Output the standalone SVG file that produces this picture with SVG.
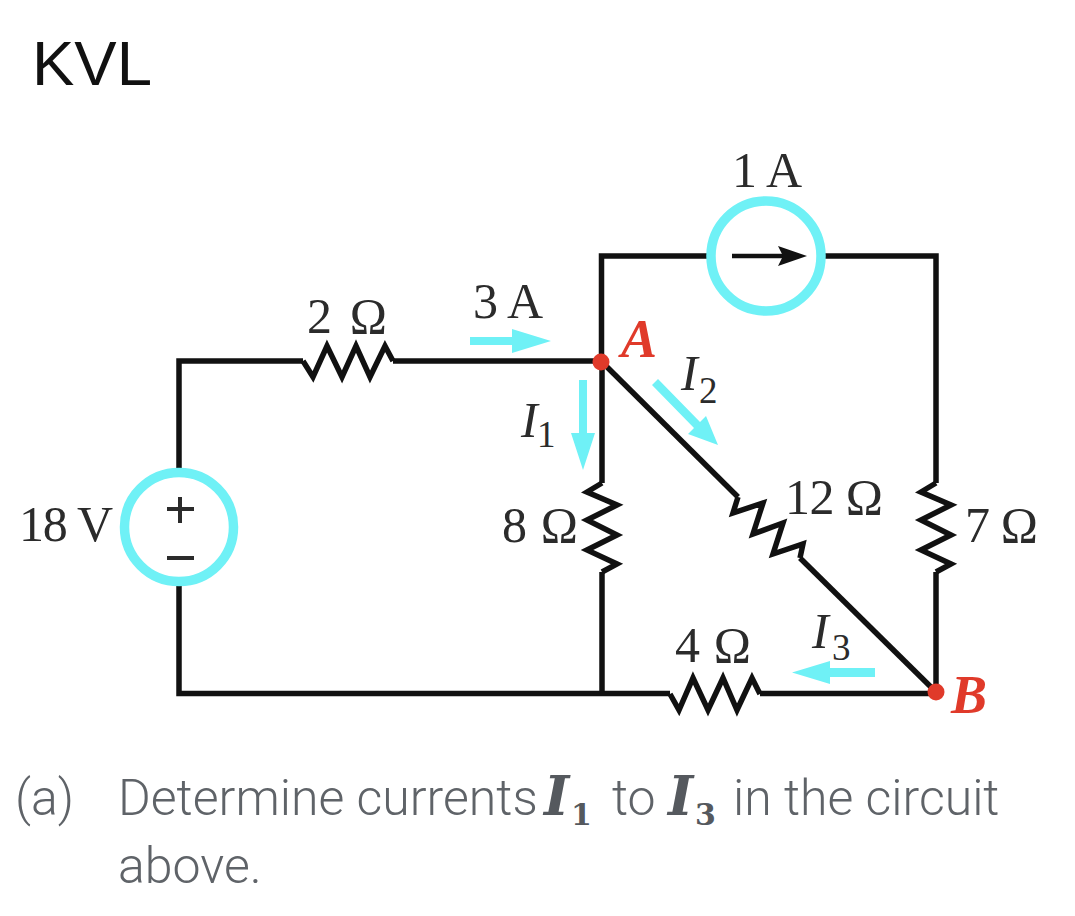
<svg xmlns="http://www.w3.org/2000/svg" width="1075" height="916" viewBox="0 0 1075 916">
<style>
.w{fill:none;stroke:#111;stroke-width:5.500;stroke-linejoin:miter;stroke-linecap:butt}
.z{fill:none;stroke:#111;stroke-width:5.500;stroke-linejoin:miter}
.c{fill:#fff;stroke:#6ff1f6;stroke-width:9.500}
.ar{fill:#6ff1f6}
.t{font-family:"Liberation Serif","Times New Roman",serif;font-size:50px;fill:#2b2b2b}
.i{font-family:"Liberation Serif","Times New Roman",serif;font-size:50px;font-style:italic;fill:#2b2b2b}
.s{font-family:"Liberation Serif","Times New Roman",serif;font-size:37px;fill:#2b2b2b}
.r{font-family:"Liberation Serif","Times New Roman",serif;font-size:54px;font-style:italic;font-weight:bold;fill:#e03a2a}
.q{font-family:Roboto,"Liberation Sans",sans-serif;font-size:50px;font-weight:300;fill:#5f6368}
.m{font-family:"DejaVu Serif",serif;font-size:54px;font-style:italic;font-weight:bold;fill:#55595e}
.n{font-family:"DejaVu Serif",serif;font-size:30px;font-weight:bold;fill:#55595e}
</style>
<text id="title" x="32" y="85" font-family="'Liberation Sans',Arial,sans-serif" font-size="63.500" fill="#111">KVL</text>
<g id="connectors">
<path class="w" d="M179 470V361H303"/>
<path class="w" d="M393 361H601"/>
<path class="w" d="M179 585V693.500H670"/>
<path class="w" d="M760 693.500H936"/>
<path class="w" d="M601.500 361V256H712"/>
<path class="w" d="M820 256H936V483"/>
<path class="w" d="M936 572V693"/>
<path class="w" d="M602 361V483"/>
<path class="w" d="M602 572V693"/>
<path class="w" d="M601 361L738 497"/>
<path class="w" d="M800 558L936 692"/>
</g>
<g id="resistor-2">
<path class="z" d="M303 361L313 377L327 346L342 377L356 346L370 377L385 346L393 361"/>
<text class="t" x="307" y="333" textLength="80">2 Ω</text>
</g>
<g id="resistor-8">
<path class="z" d="M602 483L587 492L617 505L587 520L617 535L587 550L617 564L602 572"/>
<text class="t" x="502" y="542" textLength="76">8 Ω</text>
</g>
<g id="resistor-7">
<path class="z" d="M936 483L921 492L951 505L921 520L951 535L921 550L951 564L936 572"/>
<text class="t" x="965" y="542" textLength="73">7 Ω</text>
</g>
<g id="resistor-12">
<path class="z" d="M738 497L733 513L763 503L753 534L783 523L773 554L803 544L800 558"/>
<text class="t" x="785" y="514" textLength="98">12 Ω</text>
</g>
<g id="resistor-4">
<path class="z" d="M670 694L679 710L693 678L708 710L723 678L737 710L752 678L760 694"/>
<text class="t" x="675" y="662" textLength="76">4 Ω</text>
</g>
<g id="source-18v">
<circle class="c" cx="179" cy="527" r="54.500"/>
<path fill="none" stroke="#2b2b2b" stroke-width="4" d="M167 509H194M180 497V523M167 558H194"/>
<text class="t" x="19" y="541" textLength="94">18 V</text>
</g>
<g id="source-1a">
<circle class="c" cx="766" cy="256" r="55"/>
<path fill="none" stroke="#111" stroke-width="4.500" d="M732 256H785"/>
<path fill="#111" d="M807 256L778 246L783 256L778 266Z"/>
<text class="t" x="732" y="187" textLength="70">1 A</text>
</g>
<g id="current-3a">
<path class="ar" d="M470 337H512V329L551 341L512 353V345H470Z"/>
<text class="t" x="473" y="318" textLength="70">3 A</text>
</g>
<g id="current-i1">
<path class="ar" d="M579 380H587V433H595L583 470L571 433H579Z"/>
<text class="i" x="521" y="437">I</text><text class="s" x="537" y="447">1</text>
</g>
<g id="current-i2">
<path class="ar" d="M658 379L700 422L706 416L718 445L688 434L694 428L652 385Z"/>
<text class="i" x="681" y="390">I</text><text class="s" x="699" y="403">2</text>
</g>
<g id="current-i3">
<path class="ar" d="M875 668H830V661L792 672.500L830 684V677H875Z"/>
<text class="i" x="812" y="648">I</text><text class="s" x="832" y="660">3</text>
</g>
<g id="node-a">
<circle cx="601" cy="362" r="8.500" fill="#e03a2a"/>
<text class="r" x="621" y="357">A</text>
</g>
<g id="node-b">
<circle cx="936" cy="692" r="8.500" fill="#e03a2a"/>
<text class="r" x="951" y="713">B</text>
</g>
<g id="question">
<text class="q" x="15" y="815">(a)</text>
<text class="q" x="118" y="815">Determine currents</text>
<text class="m" x="544" y="815">I</text><text class="n" x="571" y="825">1</text>
<text class="q" x="612" y="815">to</text>
<text class="m" x="668" y="815">I</text><text class="n" x="695" y="825">3</text>
<text class="q" x="733" y="815">in the circuit</text>
<text class="q" x="118" y="883">above.</text>
</g>
</svg>
